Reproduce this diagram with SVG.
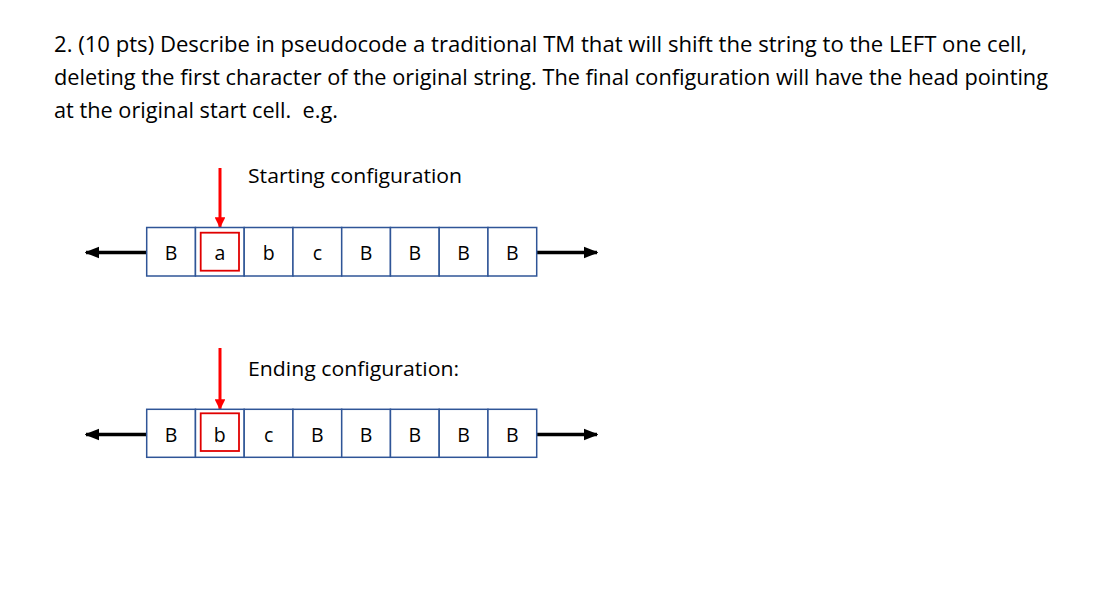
<svg xmlns="http://www.w3.org/2000/svg" width="1095" height="592" viewBox="0 0 1095 592">
<style>
.t{font-family:"Open Sans","Liberation Sans",sans-serif;font-size:21px;fill:#000;white-space:pre}
.lbl{font-family:"Open Sans","Liberation Sans",sans-serif;font-size:20px;fill:#000}
.c{font-family:"Open Sans","Liberation Sans",sans-serif;font-size:19.5px;fill:#000;text-anchor:middle}
.cell{fill:#fff;stroke:#2F5597;stroke-width:1.5}
.head{fill:none;stroke:#E00000;stroke-width:1.8}
.blk{stroke:#000;stroke-width:3.5;fill:none}
.red{stroke:#FF0000;stroke-width:3;fill:none}
</style>
<defs>
<marker id="ab" viewBox="0 0 10 10" refX="9" refY="5" markerWidth="4.2" markerHeight="4.2" orient="auto"><path d="M0,1 L10,5 L0,9 z" fill="#000"/></marker>
<marker id="ar" viewBox="0 0 10 10" refX="9" refY="5" markerWidth="3.6" markerHeight="3.6" orient="auto"><path d="M0,0 L10,5 L0,10 z" fill="#FF0000"/></marker>
</defs>
<rect width="1095" height="592" fill="#fff"/>
<g id="title">
<text class="t" x="54" y="52" textLength="973" lengthAdjust="spacingAndGlyphs">2. (10 pts) Describe in pseudocode a traditional TM that will shift the string to the LEFT one cell,</text>
<text class="t" x="54" y="85" textLength="994" lengthAdjust="spacingAndGlyphs">deleting the first character of the original string. The final configuration will have the head pointing</text>
<text class="t" x="54" y="118" textLength="284" lengthAdjust="spacingAndGlyphs">at the original start cell.  e.g.</text>
</g>
<g id="label-start"><text class="lbl" x="248" y="183" textLength="214" lengthAdjust="spacingAndGlyphs">Starting configuration</text></g>
<g id="label-end"><text class="lbl" x="248" y="376" textLength="211" lengthAdjust="spacingAndGlyphs">Ending configuration:</text></g>
<g id="connectors">
<line class="blk" x1="146.7" y1="252.5" x2="86" y2="252.5" marker-end="url(#ab)"/>
<line class="blk" x1="536.7" y1="252.5" x2="597" y2="252.5" marker-end="url(#ab)"/>
<line class="red" x1="220" y1="168" x2="220" y2="227" marker-end="url(#ar)"/>
<line class="blk" x1="146.7" y1="434.5" x2="86" y2="434.5" marker-end="url(#ab)"/>
<line class="blk" x1="536.7" y1="434.5" x2="597" y2="434.5" marker-end="url(#ab)"/>
<line class="red" x1="220" y1="348" x2="220" y2="409" marker-end="url(#ar)"/>
</g>
<g id="tape-start">
<rect class="cell" x="146.7" y="227.5" width="48.75" height="48.5"/>
<rect class="cell" x="195.45" y="227.5" width="48.75" height="48.5"/>
<rect class="cell" x="244.2" y="227.5" width="48.75" height="48.5"/>
<rect class="cell" x="292.95" y="227.5" width="48.75" height="48.5"/>
<rect class="cell" x="341.7" y="227.5" width="48.75" height="48.5"/>
<rect class="cell" x="390.45" y="227.5" width="48.75" height="48.5"/>
<rect class="cell" x="439.2" y="227.5" width="48.75" height="48.5"/>
<rect class="cell" x="487.95" y="227.5" width="48.75" height="48.5"/>
<rect class="head" x="200.7" y="232.7" width="38.3" height="38"/>
<text class="c" x="171" y="260">B</text>
<text class="c" x="219.8" y="260">a</text>
<text class="c" x="268.6" y="260">b</text>
<text class="c" x="317.3" y="260">c</text>
<text class="c" x="366" y="260">B</text>
<text class="c" x="414.8" y="260">B</text>
<text class="c" x="463.6" y="260">B</text>
<text class="c" x="512.3" y="260">B</text>
</g>
<g id="tape-end">
<rect class="cell" x="146.7" y="409.3" width="48.75" height="48"/>
<rect class="cell" x="195.45" y="409.3" width="48.75" height="48"/>
<rect class="cell" x="244.2" y="409.3" width="48.75" height="48"/>
<rect class="cell" x="292.95" y="409.3" width="48.75" height="48"/>
<rect class="cell" x="341.7" y="409.3" width="48.75" height="48"/>
<rect class="cell" x="390.45" y="409.3" width="48.75" height="48"/>
<rect class="cell" x="439.2" y="409.3" width="48.75" height="48"/>
<rect class="cell" x="487.95" y="409.3" width="48.75" height="48"/>
<rect class="head" x="200.7" y="413.3" width="38.3" height="37.7"/>
<text class="c" x="171" y="442">B</text>
<text class="c" x="219.8" y="442">b</text>
<text class="c" x="268.6" y="442">c</text>
<text class="c" x="317.3" y="442">B</text>
<text class="c" x="366" y="442">B</text>
<text class="c" x="414.8" y="442">B</text>
<text class="c" x="463.6" y="442">B</text>
<text class="c" x="512.3" y="442">B</text>
</g>
</svg>
